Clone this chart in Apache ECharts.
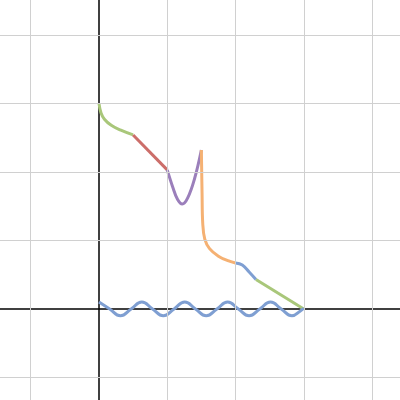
<!DOCTYPE html><html><head><script src="https://cdn.jsdelivr.net/npm/echarts@6/dist/echarts.min.js"></script></head><body style="margin:0"><div id="c" style="width:400px;height:400px"></div><script>
const greenCurve=[[0,3],[0.03,2.86],[0.08,2.77],[0.18,2.68],[0.32,2.61],[0.5,2.54]];
const redLine=[[0.5,2.54],[1,2.03]];
const purpleCurve=[[1,2.03],[1.08,1.78],[1.15,1.6],[1.22,1.53],[1.3,1.62],[1.4,1.9],[1.5,2.32]];
const orangeCurve=[[1.5,2.32],[1.51,1.7],[1.52,1.25],[1.55,1.02],[1.62,0.88],[1.75,0.77],[1.9,0.7],[2,0.67]];
const blueCurve=[[2,0.67],[2.1,0.64],[2.2,0.54],[2.3,0.43]];
const greenLine=[[2.3,0.43],[3,0]];
const wave=[[0,0.1],[0.157,0],[0.314,-0.1],[0.471,0],[0.628,0.1],[0.785,0],[0.942,-0.1],[1.1,0],[1.257,0.1],[1.414,0],[1.571,-0.1],[1.728,0],[1.885,0.1],[2.042,0],[2.199,-0.1],[2.356,0],[2.513,0.1],[2.67,0],[2.827,-0.1],[2.95,-0.03],[3,0.01]];
const gridX=[-1,1,2,3,4];
const gridY=[-1,1,2,3,4];
const ch=echarts.init(document.getElementById('c'));
const base={type:'value',axisLabel:{show:false},axisTick:{show:false},axisLine:{onZero:true,lineStyle:{color:'#000',width:1.5}},splitLine:{show:false}};
function s(d,c,sm){return {type:'line',data:d,smooth:sm,showSymbol:false,lineStyle:{color:c,width:3},animation:false,z:3};}
const gl={type:'line',data:[],silent:true,markLine:{symbol:'none',silent:true,label:{show:false},lineStyle:{color:'#d0d0d0',type:'solid',width:1},
 data:gridX.map(v=>({xAxis:v})).concat(gridY.map(v=>({yAxis:v})))},z:1};
ch.setOption({animation:false,grid:{left:0,right:0,top:0,bottom:0},
xAxis:Object.assign({min:-1.45,max:4.41},base),yAxis:Object.assign({min:-1.33,max:4.51},base),
series:[gl,s(greenCurve,'#a9c77a',0.4),s(redLine,'#cc6e6a',false),s(purpleCurve,'#9b7fbb',0.4),s(orangeCurve,'#f5b173',0.4),s(blueCurve,'#7f9fd2',0.4),s(greenLine,'#a9c77a',false),s(wave,'#7f9fd2',0.5)]});
</script></body></html>
